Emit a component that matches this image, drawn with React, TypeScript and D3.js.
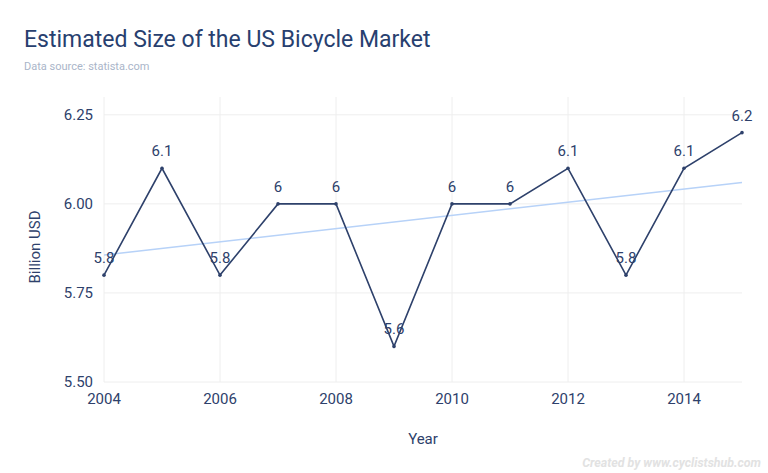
import React, { useEffect, useRef } from 'react';
import * as d3 from 'd3';

const years = [2004, 2005, 2006, 2007, 2008, 2009, 2010, 2011, 2012, 2013, 2014, 2015];
const marketSize = [5.8, 6.1, 5.8, 6.0, 6.0, 5.6, 6.0, 6.0, 6.1, 5.8, 6.1, 6.2];
const yTicks = [5.5, 5.75, 6.0, 6.25];
const xTicks = [2004, 2006, 2008, 2010, 2012, 2014];

const W = 768;
const H = 473;
const margin = { top: 97, right: 26, bottom: 91, left: 104 };
const navy = '#2e416b';
const font = 'Roboto, sans-serif';

const App: React.FC = () => {
    const ref = useRef<SVGSVGElement>(null);

    useEffect(() => {
        if (!ref.current) return;
        const svg = d3.select(ref.current);
        svg.selectAll('*').remove();

        const x = d3.scaleLinear()
            .domain([2004, 2015])
            .range([margin.left, W - margin.right]);
        const y = d3.scaleLinear()
            .domain([5.5, 6.3])
            .range([H - margin.bottom, margin.top]);

        // grid
        svg.append('g')
            .selectAll('line')
            .data(yTicks)
            .enter()
            .append('line')
            .attr('x1', x(2004))
            .attr('x2', x(2015))
            .attr('y1', d => y(d))
            .attr('y2', d => y(d))
            .attr('stroke', '#eeeeee')
            .attr('stroke-width', 1);
        svg.append('g')
            .selectAll('line')
            .data(xTicks)
            .enter()
            .append('line')
            .attr('x1', d => x(d))
            .attr('x2', d => x(d))
            .attr('y1', y(6.3))
            .attr('y2', y(5.5))
            .attr('stroke', '#eeeeee')
            .attr('stroke-width', 1);

        // y tick labels
        svg.append('g')
            .selectAll('text')
            .data(yTicks)
            .enter()
            .append('text')
            .attr('x', x(2004) - 11)
            .attr('y', d => y(d))
            .attr('dy', '0.35em')
            .attr('text-anchor', 'end')
            .style('font-family', font)
            .style('font-size', '15px')
            .style('fill', navy)
            .text(d => d3.format('.2f')(d));

        // x tick labels
        svg.append('g')
            .selectAll('text')
            .data(xTicks)
            .enter()
            .append('text')
            .attr('x', d => x(d))
            .attr('y', y(5.5) + 22)
            .attr('text-anchor', 'middle')
            .style('font-family', font)
            .style('font-size', '15px')
            .style('fill', navy)
            .text(d => String(d));

        // linear trend (least squares over the data)
        const mx = d3.mean(years) as number;
        const my = d3.mean(marketSize) as number;
        const slope = d3.sum(years, (yr, i) => (yr - mx) * (marketSize[i] - my)) /
            d3.sum(years, yr => (yr - mx) ** 2);
        const trend = (yr: number) => my + slope * (yr - mx);
        svg.append('line')
            .attr('x1', x(2004))
            .attr('x2', x(2015))
            .attr('y1', y(trend(2004)))
            .attr('y2', y(trend(2015)))
            .attr('stroke', '#b7d2f8')
            .attr('stroke-width', 1.5);

        // main line
        const pts = years.map((yr, i) => [yr, marketSize[i]] as [number, number]);
        const line = d3.line<[number, number]>()
            .x(d => x(d[0]))
            .y(d => y(d[1]));
        svg.append('path')
            .datum(pts)
            .attr('d', line)
            .attr('fill', 'none')
            .attr('stroke', navy)
            .attr('stroke-width', 1.6);

        svg.append('g')
            .selectAll('circle')
            .data(pts)
            .enter()
            .append('circle')
            .attr('cx', d => x(d[0]))
            .attr('cy', d => y(d[1]))
            .attr('r', 1.8)
            .attr('fill', navy);

        svg.append('g')
            .selectAll('text')
            .data(pts)
            .enter()
            .append('text')
            .attr('x', d => x(d[0]))
            .attr('y', d => y(d[1]) - 12)
            .attr('text-anchor', 'middle')
            .style('font-family', font)
            .style('font-size', '15px')
            .style('fill', navy)
            .text(d => String(d[1]));

        // titles
        svg.append('text')
            .attr('x', 24)
            .attr('y', 47)
            .style('font-family', font)
            .style('font-size', '23px')
            .style('fill', '#28406f')
            .text('Estimated Size of the US Bicycle Market');
        svg.append('text')
            .attr('x', 24)
            .attr('y', 70)
            .style('font-family', font)
            .style('font-size', '11px')
            .style('fill', '#aab5c9')
            .text('Data source: statista.com');

        svg.append('text')
            .attr('transform', `translate(40,${247}) rotate(-90)`)
            .attr('text-anchor', 'middle')
            .style('font-family', font)
            .style('font-size', '15px')
            .style('fill', navy)
            .text('Billion USD');

        svg.append('text')
            .attr('x', (x(2004) + x(2015)) / 2)
            .attr('y', 444)
            .attr('text-anchor', 'middle')
            .style('font-family', font)
            .style('font-size', '15px')
            .style('fill', navy)
            .text('Year');

        svg.append('text')
            .attr('x', 761)
            .attr('y', 467)
            .attr('text-anchor', 'end')
            .style('font-family', font)
            .style('font-size', '12.4px')
            .style('font-style', 'italic')
            .style('font-weight', 'bold')
            .style('fill', '#e2e2e2')
            .text('Created by www.cyclistshub.com');
    }, []);

    return (
        <svg
            ref={ref}
            width={W}
            height={H}
            style={{ position: 'absolute', left: 0, top: 0, background: '#fff' }}
        />
    );
};

export default App;
